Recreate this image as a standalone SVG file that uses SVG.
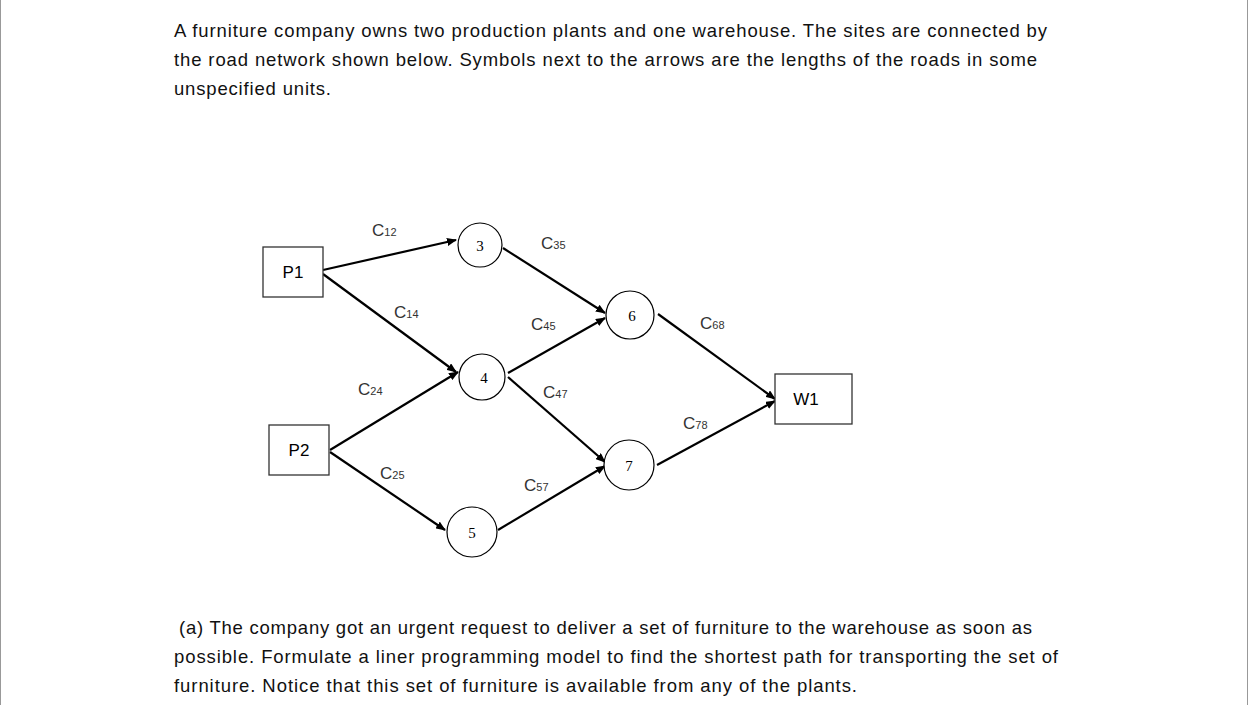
<svg xmlns="http://www.w3.org/2000/svg" width="1249" height="705" viewBox="0 0 1249 705">
<defs>
<marker id="ah" markerWidth="10" markerHeight="8" refX="9" refY="4" orient="auto" markerUnits="userSpaceOnUse"><path d="M0,0 L10,4 L0,8 Z" fill="#000"/></marker>
<style>
.p{font-family:"Liberation Sans",Arial,sans-serif;font-size:18.5px;fill:#111}
.n{fill:#fff;stroke:#000;stroke-width:1.2}
.b{fill:#fff;stroke:#333;stroke-width:1.3}
.t{font-family:"Liberation Serif",serif;font-size:15px;text-anchor:middle}
.bt{font-family:"Liberation Sans",sans-serif;font-size:17px;text-anchor:middle}
.l{font-family:"Liberation Sans",sans-serif;font-size:17px;fill:#333}
.s{font-size:11px}
.e{stroke:#000;stroke-width:2.2;fill:none;marker-end:url(#ah)}
</style>
</defs>
<rect width="1249" height="705" fill="#fff"/>
<line x1="0.5" y1="0" x2="0.5" y2="705" stroke="#999"/>
<line x1="1247.5" y1="0" x2="1247.5" y2="705" stroke="#999"/>
<text class="p" x="174" y="37" textLength="873">A furniture company owns two production plants and one warehouse. The sites are connected by</text>
<text class="p" x="174" y="66" textLength="863">the road network shown below. Symbols next to the arrows are the lengths of the roads in some</text>
<text class="p" x="174" y="95" textLength="157">unspecified units.</text>
<text class="p" x="179" y="634" textLength="853">(a) The company got an urgent request to deliver a set of furniture to the warehouse as soon as</text>
<text class="p" x="174" y="663" textLength="884">possible. Formulate a liner programming model to find the shortest path for transporting the set of</text>
<text class="p" x="174" y="692" textLength="683">furniture. Notice that this set of furniture is available from any of the plants.</text>
<g id="connectors">
<line class="e" x1="323" y1="270" x2="456" y2="240"/>
<line class="e" x1="323" y1="274" x2="456" y2="372"/>
<line class="e" x1="503" y1="248" x2="605" y2="313"/>
<line class="e" x1="330" y1="450" x2="458" y2="372"/>
<line class="e" x1="330" y1="452" x2="445" y2="530"/>
<line class="e" x1="508" y1="373" x2="605" y2="318"/>
<line class="e" x1="508" y1="377" x2="605" y2="462"/>
<line class="e" x1="498" y1="530" x2="605" y2="466"/>
<line class="e" x1="658" y1="314" x2="775" y2="399"/>
<line class="e" x1="657" y1="465" x2="775" y2="401"/>
</g>
<g id="labels">
<text class="l" x="372" y="236">C<tspan class="s">12</tspan></text>
<text class="l" x="541" y="249">C<tspan class="s">35</tspan></text>
<text class="l" x="394" y="318">C<tspan class="s">14</tspan></text>
<text class="l" x="531" y="330">C<tspan class="s">45</tspan></text>
<text class="l" x="358" y="395">C<tspan class="s">24</tspan></text>
<text class="l" x="543" y="398">C<tspan class="s">47</tspan></text>
<text class="l" x="380" y="479">C<tspan class="s">25</tspan></text>
<text class="l" x="524" y="491">C<tspan class="s">57</tspan></text>
<text class="l" x="700" y="329">C<tspan class="s">68</tspan></text>
<text class="l" x="683" y="429">C<tspan class="s">78</tspan></text>
</g>
<g id="P1"><rect class="b" x="263" y="247" width="60" height="50"/><text class="bt" x="293" y="278">P1</text></g>
<g id="P2"><rect class="b" x="269" y="425" width="60" height="50"/><text class="bt" x="299" y="456">P2</text></g>
<g id="W1"><rect class="b" x="775" y="374" width="77" height="50"/><text class="bt" x="806" y="405">W1</text></g>
<g id="n3"><circle class="n" cx="480" cy="245" r="22"/><text class="t" x="480" y="251">3</text></g>
<g id="n4"><circle class="n" cx="482" cy="377" r="23"/><text class="t" x="484" y="383">4</text></g>
<g id="n5"><circle class="n" cx="472" cy="532" r="25"/><text class="t" x="472" y="538">5</text></g>
<g id="n6"><circle class="n" cx="630" cy="315" r="24"/><text class="t" x="632" y="321">6</text></g>
<g id="n7"><circle class="n" cx="629" cy="465" r="25"/><text class="t" x="629" y="471">7</text></g>
</svg>
